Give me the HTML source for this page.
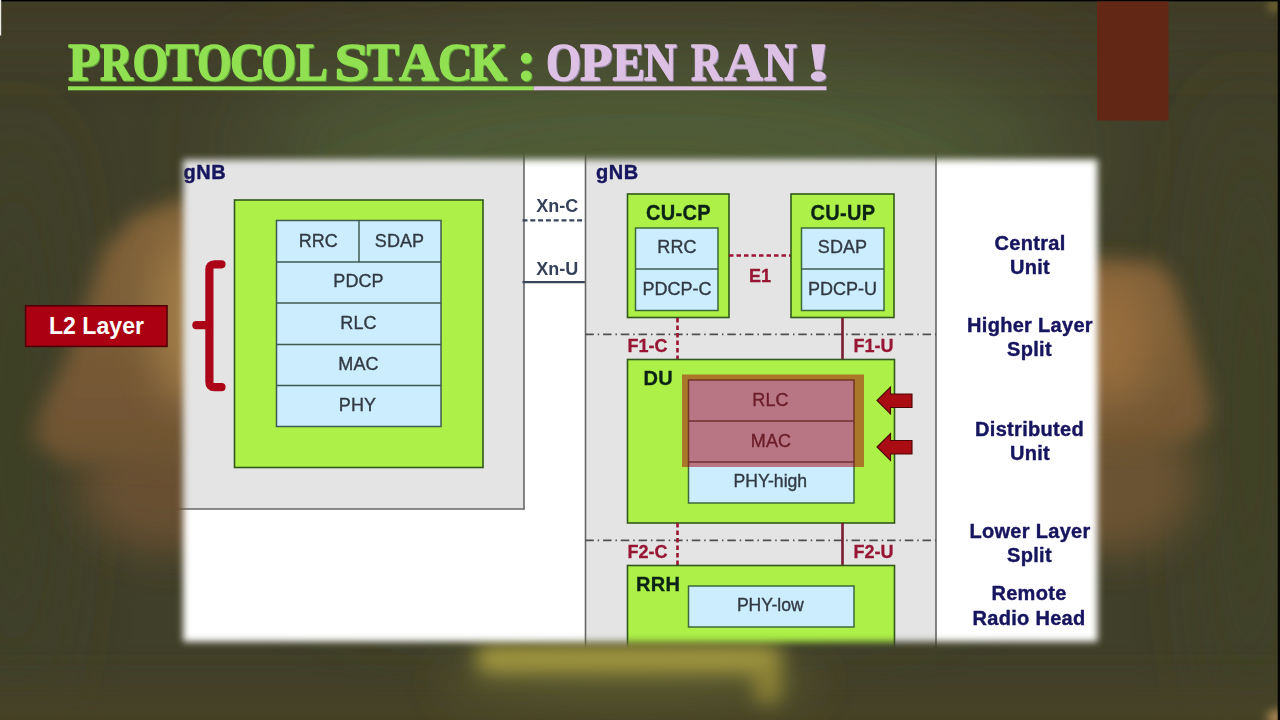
<!DOCTYPE html>
<html lang="en">
<head>
<meta charset="utf-8">
<title>Protocol Stack : Open RAN !</title>
<style>
html,body{margin:0;padding:0;width:1280px;height:720px;overflow:hidden;background:#3f3d28;}
#stage{position:relative;width:1280px;height:720px;overflow:hidden;font-family:"Liberation Sans",sans-serif;}
#bg{position:absolute;left:0;top:0;width:1280px;height:720px;background:#403f29;}
svg{position:absolute;left:0;top:0;}
.cell{font-family:"Liberation Sans",sans-serif;font-size:18px;fill:#323a44;stroke:#323a44;stroke-width:.35px;text-anchor:middle;letter-spacing:.1px;}
.hdr{font-family:"Liberation Sans",sans-serif;font-size:20px;font-weight:bold;fill:#0b2418;stroke:#0b2418;stroke-width:.3px;letter-spacing:.3px;}
.nav{font-family:"Liberation Sans",sans-serif;font-size:20px;font-weight:bold;fill:#17135f;stroke:#17135f;stroke-width:.4px;letter-spacing:.6px;}
.lab{font-family:"Liberation Sans",sans-serif;font-size:20px;font-weight:bold;fill:#17135f;stroke:#17135f;stroke-width:.4px;text-anchor:middle;letter-spacing:.3px;}
.red{font-family:"Liberation Sans",sans-serif;font-size:18px;font-weight:bold;fill:#981634;stroke:#981634;stroke-width:.3px;}
.xn{font-family:"Liberation Sans",sans-serif;font-size:18px;font-weight:bold;fill:#36435a;}
.title{font-family:"Liberation Serif",serif;font-weight:bold;font-size:52.8px;}
</style>
</head>
<body>
<div id="stage">
<div id="bg"></div>
<svg width="1280" height="720" viewBox="0 0 1280 720">
  <defs>
    <filter id="soft" x="-5%" y="-5%" width="110%" height="110%"><feGaussianBlur stdDeviation="3.700"/></filter>
    <filter id="glow" filterUnits="userSpaceOnUse" x="400" y="580" width="480" height="140"><feGaussianBlur stdDeviation="10"/></filter>
    <mask id="feather" maskUnits="userSpaceOnUse" x="160" y="140" width="960" height="520">
      <rect x="183.200" y="159.600" width="914.300" height="482" fill="#fff" filter="url(#soft)"/>
    </mask>
    <filter id="b60" x="-50%" y="-100%" width="200%" height="300%"><feGaussianBlur stdDeviation="60"/></filter>
    <filter id="b40" x="-100%" y="-100%" width="300%" height="300%"><feGaussianBlur stdDeviation="40"/></filter>
    <filter id="b20" x="-100%" y="-100%" width="300%" height="300%"><feGaussianBlur stdDeviation="20"/></filter>
    <filter id="b10" x="-30%" y="-30%" width="160%" height="160%"><feGaussianBlur stdDeviation="10"/></filter>
    <filter id="b14" x="-100%" y="-100%" width="300%" height="300%"><feGaussianBlur stdDeviation="14"/></filter>
    <filter id="tsh" filterUnits="userSpaceOnUse" x="40" y="20" width="820" height="90" color-interpolation-filters="sRGB">
      <feColorMatrix in="SourceGraphic" type="matrix" values=".66 0 0 0 0  0 .69 0 0 0  0 0 .69 0 0  0 0 0 1 0" result="d"/>
      <feOffset in="d" dx=".8" dy=".8" result="o"/>
      <feMerge><feMergeNode in="o"/><feMergeNode in="SourceGraphic"/></feMerge>
    </filter>
    <linearGradient id="lgL" gradientUnits="userSpaceOnUse" x1="0" y1="195" x2="0" y2="470">
      <stop offset="0" stop-color="#836439"/><stop offset=".7" stop-color="#755835"/><stop offset="1" stop-color="#6b5231"/>
    </linearGradient>
    <linearGradient id="lgR" gradientUnits="userSpaceOnUse" x1="0" y1="262" x2="0" y2="450">
      <stop offset="0" stop-color="#836238"/><stop offset=".7" stop-color="#775a35"/><stop offset="1" stop-color="#715632"/>
    </linearGradient>
    <filter id="jpg" filterUnits="userSpaceOnUse" x="160" y="140" width="960" height="520"><feGaussianBlur stdDeviation=".45"/></filter>
    <filter id="b4" x="-100%" y="-100%" width="300%" height="300%"><feGaussianBlur stdDeviation="4"/></filter>
  </defs>

  <!-- blurred photographic background -->
  <g id="bgshapes">
    <rect x="-100" y="-60" width="1480" height="90" fill="#413a27" filter="url(#b40)"/>
    <ellipse cx="660" cy="150" rx="420" ry="85" fill="#52603a" filter="url(#b60)"/>
    <ellipse cx="640" cy="400" rx="420" ry="200" fill="#4c5632" filter="url(#b60)"/>
    <ellipse cx="1250" cy="420" rx="40" ry="330" fill="#3f4327" filter="url(#b40)"/>
    <ellipse cx="15" cy="420" rx="40" ry="300" fill="#3e4128" filter="url(#b40)"/>
    <rect x="-50" y="690" width="1400" height="60" fill="#474327" filter="url(#b20)"/>
    <!-- left tan blob -->
    <ellipse cx="172" cy="486" rx="92" ry="66" fill="#675030" filter="url(#b20)"/>
    <path d="M260 195 L180 200 L135 216 L104 250 L88 300 L66 360 L40 412 L34 440 L60 462 L260 470 Z" fill="url(#lgL)" filter="url(#b10)"/>
    <ellipse cx="196" cy="318" rx="44" ry="88" fill="#a07c46" filter="url(#b20)"/>
    <!-- right tan blob -->
    <ellipse cx="1112" cy="482" rx="84" ry="72" fill="#6b5230" filter="url(#b20)"/>
    <path d="M1040 262 L1150 262 Q1168 268 1175 286 L1184 313 L1192 341 L1200 369 L1208 397 L1210 425 L1180 445 L1040 450 Z" fill="url(#lgR)" filter="url(#b10)"/>
    <ellipse cx="1108" cy="340" rx="44" ry="64" fill="#966d3c" filter="url(#b20)"/>
  </g>

  <!-- bottom blurred glow -->
  <ellipse cx="630" cy="682" rx="190" ry="22" fill="#5a592d" filter="url(#b20)"/>
  <g filter="url(#glow)">
    <rect x="476" y="645" width="306" height="28" rx="12" fill="#a49a40"/>
    <rect x="754" y="660" width="28" height="44" rx="12" fill="#8c8236"/>
  </g>

  <!-- frame edges -->
  <circle cx="1276" cy="718" r="9" fill="#a08050" filter="url(#b4)"/>
  <circle cx="1274" cy="6" r="6" fill="#7a6c34" filter="url(#b4)"/>
  <rect x="0" y="0" width="1280" height="1.400" fill="#030303"/>
  <rect x="1277.700" y="0" width="2.300" height="720" fill="#050503"/>
  <rect x="0" y="0" width="1.200" height="35.500" fill="#ecece6"/>

  <!-- red rectangle top right -->
  <rect x="1097" y="1.500" width="71.500" height="119" fill="#632716"/>

  <!-- title -->
  <g class="title" stroke-width="1.300" stroke-linejoin="round" filter="url(#tsh)">
    <text y="79.500" fill="#90e052" stroke="#90e052"><tspan x="67.9" textLength="32.2" lengthAdjust="spacingAndGlyphs">P</tspan><tspan x="99.9" textLength="32.7" lengthAdjust="spacingAndGlyphs">R</tspan><tspan x="132.6" textLength="35.6" lengthAdjust="spacingAndGlyphs">O</tspan><tspan x="165.4" textLength="33.2" lengthAdjust="spacingAndGlyphs">T</tspan><tspan x="197.1" textLength="34.6" lengthAdjust="spacingAndGlyphs">O</tspan><tspan x="230.0" textLength="34.5" lengthAdjust="spacingAndGlyphs">C</tspan><tspan x="261.5" textLength="34.6" lengthAdjust="spacingAndGlyphs">O</tspan><tspan x="295.9" textLength="31.8" lengthAdjust="spacingAndGlyphs">L</tspan><tspan x="334.3" style="white-space:pre"> </tspan><tspan x="334.3" textLength="35.0" lengthAdjust="spacingAndGlyphs">S</tspan><tspan x="366.4" textLength="32.6" lengthAdjust="spacingAndGlyphs">T</tspan><tspan x="399.1" textLength="39.4" lengthAdjust="spacingAndGlyphs">A</tspan><tspan x="438.1" textLength="34.3" lengthAdjust="spacingAndGlyphs">C</tspan><tspan x="470.5" textLength="36.5" lengthAdjust="spacingAndGlyphs">K</tspan><tspan x="516.7" style="white-space:pre"> </tspan><tspan x="516.7" textLength="19.4" lengthAdjust="spacingAndGlyphs" font-size="57.6">:</tspan></text>
    <text y="79.500" fill="#ddc1e5" stroke="#ddc1e5"><tspan x="546.1" textLength="35.1" lengthAdjust="spacingAndGlyphs">O</tspan><tspan x="579.9" textLength="32.2" lengthAdjust="spacingAndGlyphs">P</tspan><tspan x="612.4" textLength="32.6" lengthAdjust="spacingAndGlyphs">E</tspan><tspan x="643.9" textLength="32.6" lengthAdjust="spacingAndGlyphs">N</tspan><tspan x="691.0" style="white-space:pre"> </tspan><tspan x="691.0" textLength="31.0" lengthAdjust="spacingAndGlyphs">R</tspan><tspan x="724.4" textLength="38.4" lengthAdjust="spacingAndGlyphs">A</tspan><tspan x="763.9" textLength="32.6" lengthAdjust="spacingAndGlyphs">N</tspan><tspan x="805.0" style="white-space:pre"> </tspan><tspan x="805.0" textLength="26.6" lengthAdjust="spacingAndGlyphs">!</tspan></text>
  </g>
  <rect x="68" y="86.300" width="465.700" height="4" fill="#90e052"/>
  <rect x="533.700" y="86.300" width="292.800" height="4" fill="#ddc1e5"/>

  <!-- diagram -->
  <g mask="url(#feather)">
  <g filter="url(#jpg)">
    <rect x="170" y="145" width="940" height="505" fill="#ffffff"/>
    <!-- left gNB -->
    <rect x="170" y="145" width="354" height="364" fill="#e4e4e4"/>
    <line x1="170" y1="509" x2="524.500" y2="509" stroke="#666" stroke-width="1.600"/>
    <line x1="524" y1="145" x2="524" y2="509.500" stroke="#666" stroke-width="1.600"/>
    <text class="nav" x="183.500" y="179">gNB</text>
    <rect x="234.500" y="200" width="248.500" height="267.500" fill="#adf046" stroke="#30581a" stroke-width="1.600"/>
    <rect x="276.500" y="220.500" width="164.500" height="206" fill="#cbedfd" stroke="#3d5a52" stroke-width="1.500"/>
    <line x1="359" y1="220.500" x2="359" y2="262" stroke="#3d5a52" stroke-width="1.500"/>
    <line x1="276.500" y1="262" x2="441" y2="262" stroke="#3d5a52" stroke-width="1.500"/>
    <line x1="276.500" y1="303" x2="441" y2="303" stroke="#3d5a52" stroke-width="1.500"/>
    <line x1="276.500" y1="344.500" x2="441" y2="344.500" stroke="#3d5a52" stroke-width="1.500"/>
    <line x1="276.500" y1="385.500" x2="441" y2="385.500" stroke="#3d5a52" stroke-width="1.500"/>
    <text class="cell" x="318.300" y="246.800">RRC</text>
    <text class="cell" x="399.500" y="246.800">SDAP</text>
    <text class="cell" x="358.500" y="286.800">PDCP</text>
    <text class="cell" x="358.500" y="329">RLC</text>
    <text class="cell" x="358.500" y="370">MAC</text>
    <text class="cell" x="357.500" y="411">PHY</text>

    <!-- Xn -->
    <text class="xn" x="536.200" y="212.400">Xn-C</text>
    <line x1="522.500" y1="220.300" x2="586.500" y2="220.300" stroke="#38445a" stroke-width="2.300" stroke-dasharray="5 2.800"/>
    <text class="xn" x="536.200" y="274.600">Xn-U</text>
    <line x1="522.500" y1="282.200" x2="586.500" y2="282.200" stroke="#38445a" stroke-width="2.300"/>

    <!-- right gNB -->
    <rect x="585.500" y="145" width="350.500" height="505" fill="#e4e4e4"/>
    <line x1="585.500" y1="145" x2="585.500" y2="650" stroke="#666" stroke-width="1.600"/>
    <line x1="936" y1="145" x2="936" y2="650" stroke="#666" stroke-width="1.600"/>
    <text class="nav" x="596" y="179">gNB</text>

    <!-- dash-dot lines -->
    <line x1="585.300" y1="334.300" x2="936" y2="334.300" stroke="#505050" stroke-width="1.700" stroke-dasharray="8.500 3.900 1.500 3.850"/>
    <line x1="585.300" y1="540.300" x2="936" y2="540.300" stroke="#505050" stroke-width="1.700" stroke-dasharray="8.500 3.900 1.500 3.850"/>

    <!-- CU-CP -->
    <rect x="627.500" y="194" width="101.500" height="123.500" fill="#adf046" stroke="#30581a" stroke-width="1.600"/>
    <text class="hdr" x="646" y="0" transform="translate(0 220.400) scale(1 1.080)">CU-CP</text>
    <rect x="635.500" y="228" width="82.500" height="82.500" fill="#cbedfd" stroke="#3c6a3a" stroke-width="1.500"/>
    <line x1="635.500" y1="269" x2="718" y2="269" stroke="#3d5a52" stroke-width="1.500"/>
    <text class="cell" x="677" y="252.800">RRC</text>
    <text class="cell" style="letter-spacing:0" x="677" y="294.500">PDCP-C</text>

    <!-- E1 -->
    <line x1="729" y1="255.500" x2="791" y2="255.500" stroke="#9c1232" stroke-width="2.600" stroke-dasharray="4.500 3"/>
    <text class="red" x="749" y="282">E1</text>

    <!-- CU-UP -->
    <rect x="791" y="194" width="103" height="123.500" fill="#adf046" stroke="#30581a" stroke-width="1.600"/>
    <text class="hdr" x="810.500" y="0" transform="translate(0 220.400) scale(1 1.080)">CU-UP</text>
    <rect x="801.500" y="228" width="82.500" height="82.500" fill="#cbedfd" stroke="#3c6a3a" stroke-width="1.500"/>
    <line x1="801.500" y1="269" x2="884" y2="269" stroke="#3d5a52" stroke-width="1.500"/>
    <text class="cell" x="842.500" y="252.800">SDAP</text>
    <text class="cell" style="letter-spacing:0" x="842.500" y="294.500">PDCP-U</text>

    <!-- F1 -->
    <line x1="677.500" y1="318" x2="677.500" y2="359" stroke="#9c1232" stroke-width="2.600" stroke-dasharray="4.500 3"/>
    <line x1="842.500" y1="318" x2="842.500" y2="359" stroke="#7c1a32" stroke-width="2.600"/>
    <text class="red" x="627.500" y="352">F1-C</text>
    <text class="red" x="853.500" y="352">F1-U</text>

    <!-- DU -->
    <rect x="627.500" y="359.500" width="267" height="163.500" fill="#adf046" stroke="#30581a" stroke-width="1.600"/>
    <text class="hdr" x="643.500" y="385">DU</text>
    <rect x="688.500" y="380" width="165.500" height="123" fill="#cbedfd" stroke="#3c6a3a" stroke-width="1.500"/>
    <line x1="688.500" y1="421" x2="854" y2="421" stroke="#3d5a52" stroke-width="1.500"/>
    <line x1="688.500" y1="462" x2="854" y2="462" stroke="#3d5a52" stroke-width="1.500"/>
    <text class="cell" x="770.500" y="405.500">RLC</text>
    <text class="cell" x="771" y="446.500">MAC</text>
    <text class="cell" style="letter-spacing:0;font-size:17.600px" x="770.300" y="486.700">PHY-high</text>

    <!-- F2 -->
    <line x1="677.500" y1="523" x2="677.500" y2="565" stroke="#9c1232" stroke-width="2.600" stroke-dasharray="4.500 3"/>
    <line x1="842.500" y1="523" x2="842.500" y2="565" stroke="#7c1a32" stroke-width="2.600"/>
    <text class="red" x="627.500" y="558">F2-C</text>
    <text class="red" x="853.500" y="558">F2-U</text>

    <!-- RRH -->
    <rect x="627.500" y="565.500" width="267" height="100" fill="#adf046" stroke="#30581a" stroke-width="1.600"/>
    <text class="hdr" x="636" y="591">RRH</text>
    <rect x="688.500" y="586" width="165.500" height="41" fill="#cbedfd" stroke="#3c6a3a" stroke-width="1.500"/>
    <text class="cell" style="letter-spacing:0;font-size:17.600px" x="770.300" y="611.400">PHY-low</text>

    <!-- right labels -->
    <text class="lab" x="1030" y="250">Central</text>
    <text class="lab" x="1030" y="274">Unit</text>
    <text class="lab" x="1030" y="332">Higher Layer</text>
    <text class="lab" x="1029.500" y="356">Split</text>
    <text class="lab" x="1029.500" y="436">Distributed</text>
    <text class="lab" x="1030" y="460">Unit</text>
    <text class="lab" x="1030" y="538">Lower Layer</text>
    <text class="lab" x="1029.500" y="562">Split</text>
    <text class="lab" x="1029" y="600">Remote</text>
    <text class="lab" x="1029" y="625">Radio Head</text>
  </g>

  </g>

  <!-- highlight overlay on RLC/MAC -->
  <rect x="682" y="374.500" width="182" height="92.500" fill="#a5000c" fill-opacity=".5"/>

  <!-- arrows -->
  <path d="M877 400.500 L890.500 387 L890.500 394 L912 394 L912 407.500 L890.500 407.500 L890.500 414 Z" fill="#a90d13" stroke="#4a0707" stroke-width="1.100"/>
  <path d="M877 447 L890.500 433.500 L890.500 440.500 L912 440.500 L912 454 L890.500 454 L890.500 460.500 Z" fill="#a90d13" stroke="#4a0707" stroke-width="1.100"/>

  <!-- bracket -->
  <path d="M221.500 264.300 L214.500 264.300 Q209.400 264.300 209.400 269.500 L209.400 382 Q209.400 387.200 214.500 387.200 L221.500 387.200" fill="none" stroke="#ac0518" stroke-width="8.200" stroke-linecap="round" stroke-linejoin="round"/>
  <path d="M196.400 325.200 L209 325.200" fill="none" stroke="#ac0518" stroke-width="8.200" stroke-linecap="round"/>

  <!-- L2 Layer -->
  <rect x="25.600" y="305.800" width="141.400" height="40.600" fill="#ab0012" stroke="#520008" stroke-width="1.600"/>
  <text x="96.500" y="334" text-anchor="middle" font-family="'Liberation Sans',sans-serif" font-weight="bold" font-size="24" fill="#ffffff" textLength="95" lengthAdjust="spacingAndGlyphs">L2 Layer</text>
</svg>
</div>
</body>
</html>
